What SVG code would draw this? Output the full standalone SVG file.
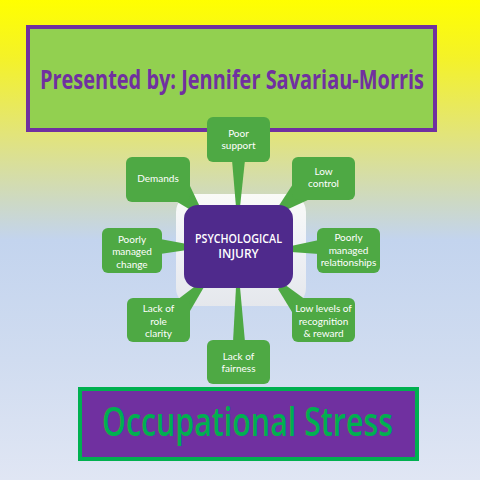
<svg xmlns="http://www.w3.org/2000/svg" width="480" height="480" viewBox="0 0 480 480">
  <defs>
    <linearGradient id="bg" x1="0" y1="0" x2="0" y2="1">
      <stop offset="0" stop-color="#ffff00"/>
      <stop offset="0.12" stop-color="#f4f228"/>
      <stop offset="0.28" stop-color="#e2e47a"/>
      <stop offset="0.42" stop-color="#cdd9c4"/>
      <stop offset="0.5" stop-color="#c3d4ee"/>
      <stop offset="0.75" stop-color="#d0dcf0"/>
      <stop offset="1" stop-color="#e0e6f4"/>
    </linearGradient>
    <linearGradient id="halo" x1="0" y1="0" x2="0" y2="1">
      <stop offset="0" stop-color="#ffffff" stop-opacity="0.88"/>
      <stop offset="1" stop-color="#e6e8ec" stop-opacity="0.95"/>
    </linearGradient>
    <style>
      .node { fill: #4ea944; }
      .tail { fill: #4ea944; }
      .lbl { font-family: Lato, "Open Sans", "Liberation Sans", sans-serif; font-size: 10px; fill: #ffffff; text-anchor: middle; }
      .core { font-family: "Open Sans", "Liberation Sans", sans-serif; font-size: 12px; font-weight: 600; fill: #ffffff; text-anchor: middle; }
    </style>
  </defs>

  <rect x="0" y="0" width="480" height="480" fill="url(#bg)"/>

  <g id="title-box">
    <rect x="28" y="27" width="407" height="103" fill="#92d050" stroke="#7030a0" stroke-width="4"/>
    <text x="232" y="89" font-family="'Open Sans', 'Liberation Sans', sans-serif" font-size="27" font-weight="700" fill="#7030a0" text-anchor="middle" textLength="384" lengthAdjust="spacingAndGlyphs">Presented by: Jennifer Savariau-Morris</text>
  </g>

  <g id="halo-group">
    <rect x="176" y="194" width="130" height="112" rx="18" fill="url(#halo)"/>
  </g>

  <g id="connectors">
    <polygon class="tail" points="232,160 245,160 240,207 236,207"/>
    <polygon class="tail" points="174,200 190,186 201,209 194,212"/>
    <polygon class="tail" points="293,184 310,199 284,211 278,207"/>
    <polygon class="tail" points="160,239 160,254 187,250 187,244"/>
    <polygon class="tail" points="319,240 319,254 291,252 291,246"/>
    <polygon class="tail" points="177,300 190,311 204,287 198,284"/>
    <polygon class="tail" points="292,312 306,300 284,284 278,289"/>
    <polygon class="tail" points="233,342 245,342 240,287 236,287"/>
  </g>

  <g id="poor-support">
    <rect class="node" x="207" y="117" width="63" height="45" rx="6"/>
    <text class="lbl" x="238.5" y="137">Poor</text>
    <text class="lbl" x="238.5" y="149">support</text>
  </g>
  <g id="demands">
    <rect class="node" x="126" y="157" width="64" height="45" rx="6"/>
    <text class="lbl" x="158" y="182">Demands</text>
  </g>
  <g id="low-control">
    <rect class="node" x="292" y="157" width="63" height="43" rx="6"/>
    <text class="lbl" x="323.5" y="175">Low</text>
    <text class="lbl" x="323.5" y="187">control</text>
  </g>
  <g id="poorly-managed-change">
    <rect class="node" x="102" y="228" width="60" height="45" rx="6"/>
    <text class="lbl" x="132" y="243">Poorly</text>
    <text class="lbl" x="132" y="255">managed</text>
    <text class="lbl" x="132" y="268">change</text>
  </g>
  <g id="poorly-managed-relationships">
    <rect class="node" x="317" y="228" width="63" height="45" rx="6"/>
    <text class="lbl" x="348.5" y="241">Poorly</text>
    <text class="lbl" x="348.5" y="254">managed</text>
    <text class="lbl" x="348.5" y="266">relationships</text>
  </g>
  <g id="lack-of-role-clarity">
    <rect class="node" x="127" y="298" width="63" height="44" rx="6"/>
    <text class="lbl" x="158.5" y="312">Lack of</text>
    <text class="lbl" x="158.5" y="325">role</text>
    <text class="lbl" x="158.5" y="337">clarity</text>
  </g>
  <g id="low-levels-recognition">
    <rect class="node" x="292" y="298" width="63" height="44" rx="6"/>
    <text class="lbl" x="323.5" y="312">Low levels of</text>
    <text class="lbl" x="323.5" y="325">recognition</text>
    <text class="lbl" x="323.5" y="337">&amp; reward</text>
  </g>
  <g id="lack-of-fairness">
    <rect class="node" x="207" y="340" width="63" height="44" rx="6"/>
    <text class="lbl" x="238.5" y="360">Lack of</text>
    <text class="lbl" x="238.5" y="372">fairness</text>
  </g>

  <g id="psychological-injury">
    <rect x="184" y="205" width="109" height="83" rx="14" fill="#4f2a8c"/>
    <text class="core" x="238.5" y="243" textLength="87" lengthAdjust="spacingAndGlyphs">PSYCHOLOGICAL</text>
    <text class="core" x="238.5" y="258">INJURY</text>
  </g>

  <g id="bottom-box">
    <rect x="80" y="389" width="337" height="70" fill="#7030a0" stroke="#00b050" stroke-width="4"/>
    <text x="247.5" y="436" font-family="'Open Sans', 'Liberation Sans', sans-serif" font-size="40" font-weight="600" fill="#00b050" text-anchor="middle" textLength="291" lengthAdjust="spacingAndGlyphs">Occupational Stress</text>
  </g>
</svg>
